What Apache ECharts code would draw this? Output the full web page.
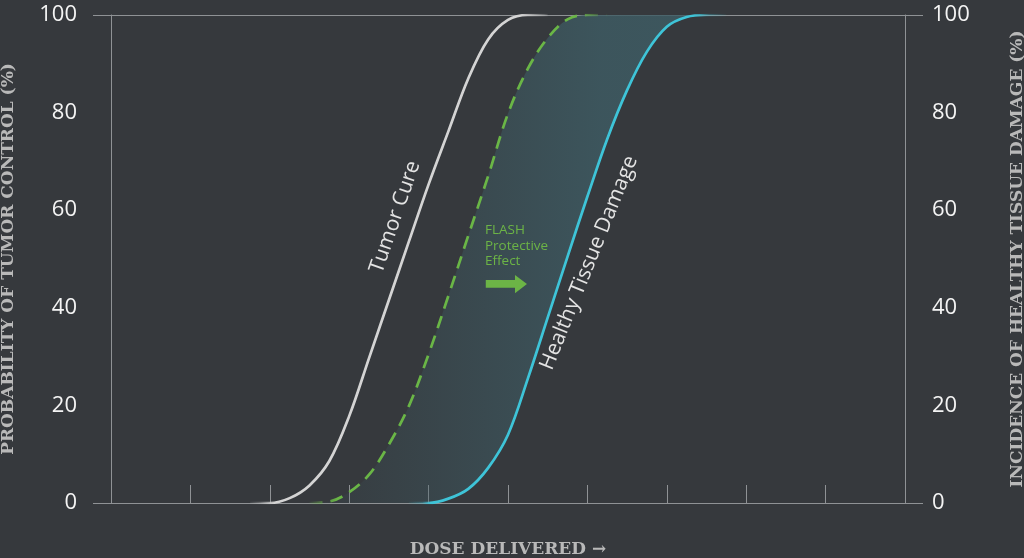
<!DOCTYPE html>
<html><head><meta charset="utf-8">
<script src="https://cdn.jsdelivr.net/npm/echarts@6/dist/echarts.min.js"></script>
<style>html,body{margin:0;padding:0;background:#36393d;}#c{width:1024px;height:558px;}</style>
</head><body><div id="c"></div>
<script>
// Dose grid (x axis, arbitrary units 0..10)
const DOSE = [1.75,2.0,2.25,2.5,2.75,3.0,3.25,3.5,3.75,4.0,4.25,4.5,4.75,5.0,5.25,5.5,5.75,6.0,6.25,6.5,6.75,7.0,7.25,7.5,7.75];
// Probability of tumor control (%)
const TUMOR_CURE = [0,0,1.0,3.6,8.6,17.8,29.7,41.6,53.5,65.3,76.2,87.0,95.0,99.0,100,100,null,null,null,null,null,null,null,null,null];
// Healthy tissue damage with FLASH (dashed)
const FLASH_DAMAGE = [null,null,null,0,0.3,2.2,5.8,12.0,19.8,30.5,42.5,54.8,67.0,79.8,89.0,95.3,99.1,100,100,null,null,null,null,null,null];
// Healthy tissue damage (conventional)
const TISSUE_DAMAGE = [null,null,null,null,null,null,null,null,0,0,0.9,2.9,7.2,14.0,25.5,38.0,50.5,62.8,74.6,84.6,92.5,97.6,99.6,100,100];
const Y_TICKS = [0,20,40,60,80,100];
const X_TICKS = [0,1,2,3,4,5,6,7,8,9,10];

const AX = '#8f9295';
const pairs = arr => DOSE.map((d,i)=>[d,arr[i]]).filter(p=>p[1]!=null);
const bandIdx = DOSE.map((d,i)=>i).filter(i=>i>=3);
// band rows are [value, dose] so that stacking happens on the value dimension
const bandBase = bandIdx.map(i=>[TISSUE_DAMAGE[i]==null?0:TISSUE_DAMAGE[i], DOSE[i]]);
const bandTop = bandIdx.map(i=>[(FLASH_DAMAGE[i]==null?100:FLASH_DAMAGE[i])-(TISSUE_DAMAGE[i]==null?0:TISSUE_DAMAGE[i]), DOSE[i]]);

function fade(rgb, a, b, c, d){
  return new echarts.graphic.LinearGradient(0,0,1,0,[
    {offset:0,color:`rgba(${rgb},0)`},
    {offset:a,color:`rgba(${rgb},0.3)`},
    {offset:b,color:`rgba(${rgb},1)`},
    {offset:c,color:`rgba(${rgb},1)`},
    {offset:d,color:`rgba(${rgb},0.3)`},
    {offset:1,color:`rgba(${rgb},0)`}
  ]);
}

const chart = echarts.init(document.getElementById('c'));
const nameStyle = {color:'#b9b9b9', fontFamily:'DejaVu Serif', fontWeight:'bold', fontSize:17};
const labelStyle = {color:'#f4f4f4', fontFamily:'Open Sans', fontSize:22};
chart.setOption({
  backgroundColor:'#36393d',
  animation:false,
  grid:{left:111,right:119,top:15,bottom:55,containLabel:false,outerBoundsMode:'none'},
  xAxis:[
    {type:'value',min:X_TICKS[0],max:X_TICKS[X_TICKS.length-1],interval:1,
     name:'DOSE DELIVERED →',nameLocation:'middle',nameGap:38,nameTextStyle:nameStyle,
     axisLine:{show:true,lineStyle:{color:AX,width:1}},
     axisTick:{show:true,inside:true,length:18,lineStyle:{color:AX,width:1}},
     axisLabel:{show:false},splitLine:{show:false}},
    {type:'value',min:0,max:10,interval:10,
     axisLine:{show:false},
     axisTick:{show:true,inside:false,length:18,lineStyle:{color:AX,width:1}},
     axisLabel:{show:false},splitLine:{show:false}}
  ],
  yAxis:[
    {type:'value',position:'left',min:0,max:100,interval:20,
     name:'PROBABILITY OF TUMOR CONTROL (%)',nameLocation:'middle',nameRotate:90,nameGap:94,nameTextStyle:nameStyle,
     axisLine:{show:true,lineStyle:{color:AX,width:1}},axisTick:{show:false},
     axisLabel:Object.assign({margin:34},labelStyle),splitLine:{show:false}},
    {type:'value',position:'left',min:0,max:100,interval:100,
     axisLine:{show:false},axisTick:{show:true,length:18,lineStyle:{color:AX,width:1}},
     axisLabel:{show:false},splitLine:{show:true,lineStyle:{color:AX,width:1}}},
    {type:'value',position:'right',min:0,max:100,interval:20,
     name:'INCIDENCE OF HEALTHY TISSUE DAMAGE (%)',nameLocation:'middle',nameRotate:90,nameGap:104,nameTextStyle:nameStyle,
     axisLine:{show:true,lineStyle:{color:AX,width:1}},axisTick:{show:false},
     axisLabel:Object.assign({margin:27},labelStyle),splitLine:{show:false}},
    {type:'value',position:'right',min:0,max:100,interval:100,
     axisLine:{show:false},axisTick:{show:true,length:18,lineStyle:{color:AX,width:1}},
     axisLabel:{show:false},splitLine:{show:false}}
  ],
  series:[
    {name:'bandBase',type:'line',stack:'band',data:bandBase,encode:{x:1,y:0},smooth:0.35,symbol:'none',
     lineStyle:{opacity:0},silent:true,z:1},
    {name:'band',type:'line',stack:'band',data:bandTop,encode:{x:1,y:0},smooth:0.35,symbol:'none',
     lineStyle:{opacity:0},silent:true,z:1,
     areaStyle:{opacity:1,color:new echarts.graphic.LinearGradient(0,0,1,0,[
       {offset:0,color:'rgba(62,92,100,0.05)'},
       {offset:0.3,color:'rgba(62,92,100,0.35)'},
       {offset:0.7,color:'rgba(62,92,100,0.8)'},
       {offset:1,color:'rgba(62,92,100,0.85)'}])}},
    {name:'Tumor Cure',type:'line',data:pairs(TUMOR_CURE),smooth:0.35,symbol:'none',z:3,
     lineStyle:{width:2.7,color:fade('212,212,212',0.04,0.09,0.9,0.98)}},
    {name:'FLASH',type:'line',data:pairs(FLASH_DAMAGE),smooth:0.35,symbol:'none',z:3,
     lineStyle:{width:2.7,type:[13,8],color:fade('106,182,70',0.03,0.1,0.89,0.96)}},
    {name:'Healthy Tissue Damage',type:'line',data:pairs(TISSUE_DAMAGE),smooth:0.35,symbol:'none',z:3,
     lineStyle:{width:2.7,color:fade('62,196,216',0.05,0.075,0.89,0.94)}}
  ]
});

function px(x,y){return chart.convertToPixel({xAxisIndex:0,yAxisIndex:0},[x,y]);}
const tc = px(3.58,58.6), hd = px(6.02,49.2), fl = px(4.71,57.4);
const arrow = [[4.72,44.1],[5.088,44.1],[5.088,43.0],[5.239,44.9],[5.088,46.7],[5.088,45.7],[4.72,45.7]].map(p=>px(p[0],p[1]));
chart.setOption({graphic:[
  {type:'text',x:tc[0],y:tc[1],rotation:71*Math.PI/180,z:10,
   style:{text:'Tumor Cure',fill:'#e4e4e4',font:'21px "Open Sans"',textAlign:'center',textVerticalAlign:'middle'}},
  {type:'text',x:hd[0],y:hd[1],rotation:68*Math.PI/180,z:10,
   style:{text:'Healthy Tissue Damage',fill:'#e4e4e4',font:'21px "Open Sans"',textAlign:'center',textVerticalAlign:'middle'}},
  {type:'text',x:fl[0],y:fl[1],z:10,
   style:{text:'FLASH\nProtective\nEffect',fill:'#6cb446',font:'13.5px "Open Sans"',lineHeight:15.5,textAlign:'left',textVerticalAlign:'top'}},
  {type:'polygon',z:10,shape:{points:arrow},style:{fill:'#6cb446'}}
]});
</script></body></html>
